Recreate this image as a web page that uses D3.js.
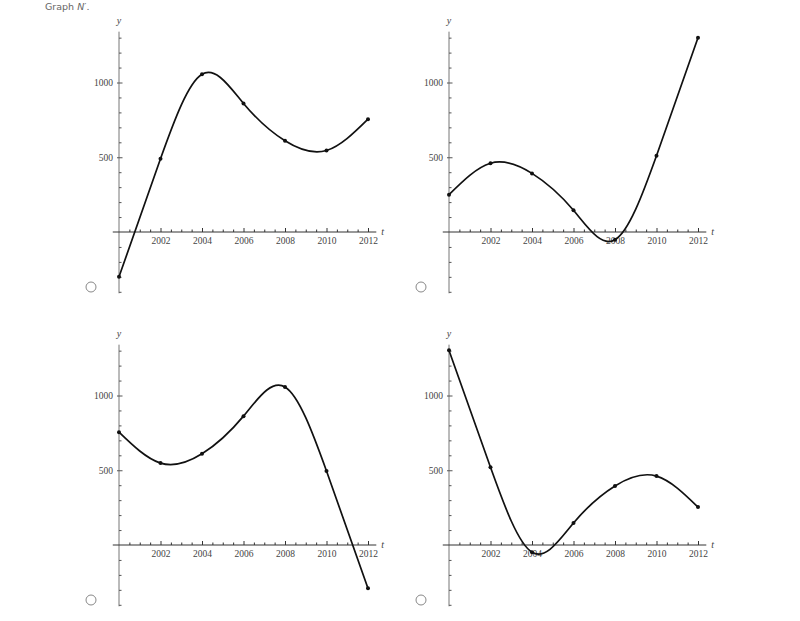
<!DOCTYPE html>
<html><head><meta charset="utf-8">
<script src="https://cdn.jsdelivr.net/npm/d3@7"></script>
<style>
body{margin:0;background:#fff;}
svg{display:block;}
</style></head>
<body>
<svg id="chart" width="800" height="621"></svg>
<script>
const years = [2000, 2002, 2004, 2006, 2008, 2010, 2012];
const graphA = [-300, 490, 1055, 860, 610, 545, 755];
const graphB = [250, 460, 392, 145, -52, 510, 1300];
const graphC = [755, 548, 610, 862, 1057, 495, -290];
const graphD = [1302, 520, -48, 147, 395, 461, 254];
const xTickLabels = [2002, 2004, 2006, 2008, 2010, 2012];
const yTickLabels = [500, 1000];

const panels = [
  {vals: graphA, ox: 119, oy: 232, radio: [91, 287]},
  {vals: graphB, ox: 449, oy: 232, radio: [421, 287]},
  {vals: graphC, ox: 119, oy: 545, radio: [91, 600]},
  {vals: graphD, ox: 449, oy: 545, radio: [421, 600]}
];

const svg = d3.select("#chart");
const serif = "'Liberation Serif','DejaVu Serif',serif";

svg.append("text").attr("x", 45).attr("y", 10)
  .attr("font-family", "'DejaVu Sans',Verdana,sans-serif").attr("font-size", 9.5)
  .attr("fill", "#666")
  .html('Graph <tspan font-style="italic">N</tspan>\u2032.');

const pxPerYear = 249 / 12;
const pxPerUnit = 0.1495;

panels.forEach(p => {
  const x = d3.scaleLinear().domain([2000, 2012]).range([p.ox, p.ox + 12 * pxPerYear]);
  const y = d3.scaleLinear().domain([0, 1000]).range([p.oy, p.oy - 1000 * pxPerUnit]);
  const g = svg.append("g");

  g.append("line").attr("x1", x(2000)).attr("x2", x(2000))
    .attr("y1", y(1340)).attr("y2", y(-410))
    .attr("stroke", "#777").attr("stroke-width", 1);
  g.append("line").attr("x1", x(1999.7)).attr("x2", x(2012.4))
    .attr("y1", y(0)).attr("y2", y(0))
    .attr("stroke", "#333").attr("stroke-width", 1);

  const xMinor = d3.range(2000.5, 2012.01, 0.5).filter(v => !xTickLabels.includes(v));
  g.append("g").attr("transform", `translate(0,${y(0)})`)
    .call(d3.axisBottom(x).tickValues(xMinor).tickSize(-2.5).tickFormat(""))
    .call(s => s.select(".domain").remove())
    .call(s => s.selectAll("line").attr("stroke", "#333"));
  g.append("g").attr("transform", `translate(0,${y(0)})`)
    .call(d3.axisBottom(x).tickValues(xTickLabels).tickSize(-4).tickPadding(5).tickFormat(d3.format("d")))
    .call(s => s.select(".domain").remove())
    .call(s => s.selectAll("line").attr("stroke", "#333"))
    .call(s => s.selectAll("text").attr("font-family", serif).attr("font-size", 9.5).attr("fill", "#444"));

  const yMinor = d3.range(-400, 1301, 100).filter(v => v !== 0 && !yTickLabels.includes(v));
  g.append("g").attr("transform", `translate(${x(2000)},0)`)
    .call(d3.axisLeft(y).tickValues(yMinor).tickSize(-2.5).tickFormat(""))
    .call(s => s.select(".domain").remove())
    .call(s => s.selectAll("line").attr("stroke", "#555"));
  g.append("g").attr("transform", `translate(${x(2000)},0)`)
    .call(d3.axisLeft(y).tickValues(yTickLabels).tickSizeInner(-3.5).tickPadding(6).tickFormat(d3.format("d")))
    .call(s => s.select(".domain").remove())
    .call(s => s.selectAll("line").attr("stroke", "#555").attr("x1", -2))
    .call(s => s.selectAll("text").attr("font-family", serif).attr("font-size", 9.5).attr("fill", "#444"));

  g.append("text").attr("x", x(2000)).attr("y", y(1340) - 8)
    .attr("text-anchor", "middle").attr("font-family", serif).attr("font-style", "italic")
    .attr("font-size", 10).attr("fill", "#444").text("y");
  g.append("text").attr("x", x(2012.4) + 5).attr("y", y(0) + 3)
    .attr("font-family", serif).attr("font-style", "italic")
    .attr("font-size", 10).attr("fill", "#444").text("t");

  const pts = years.map((t, i) => [t, p.vals[i]]);
  const line = d3.line().x(d => x(d[0])).y(d => y(d[1])).curve(d3.curveNatural);
  g.append("path").attr("d", line(pts)).attr("fill", "none")
    .attr("stroke", "#111").attr("stroke-width", 1.7);
  g.selectAll("circle.pt").data(pts).join("circle").attr("class", "pt")
    .attr("cx", d => x(d[0])).attr("cy", d => y(d[1])).attr("r", 2).attr("fill", "#111");

  svg.append("circle").attr("cx", p.radio[0]).attr("cy", p.radio[1]).attr("r", 5)
    .attr("fill", "#fff").attr("stroke", "#888").attr("stroke-width", 1);
});
</script>
</body></html>
